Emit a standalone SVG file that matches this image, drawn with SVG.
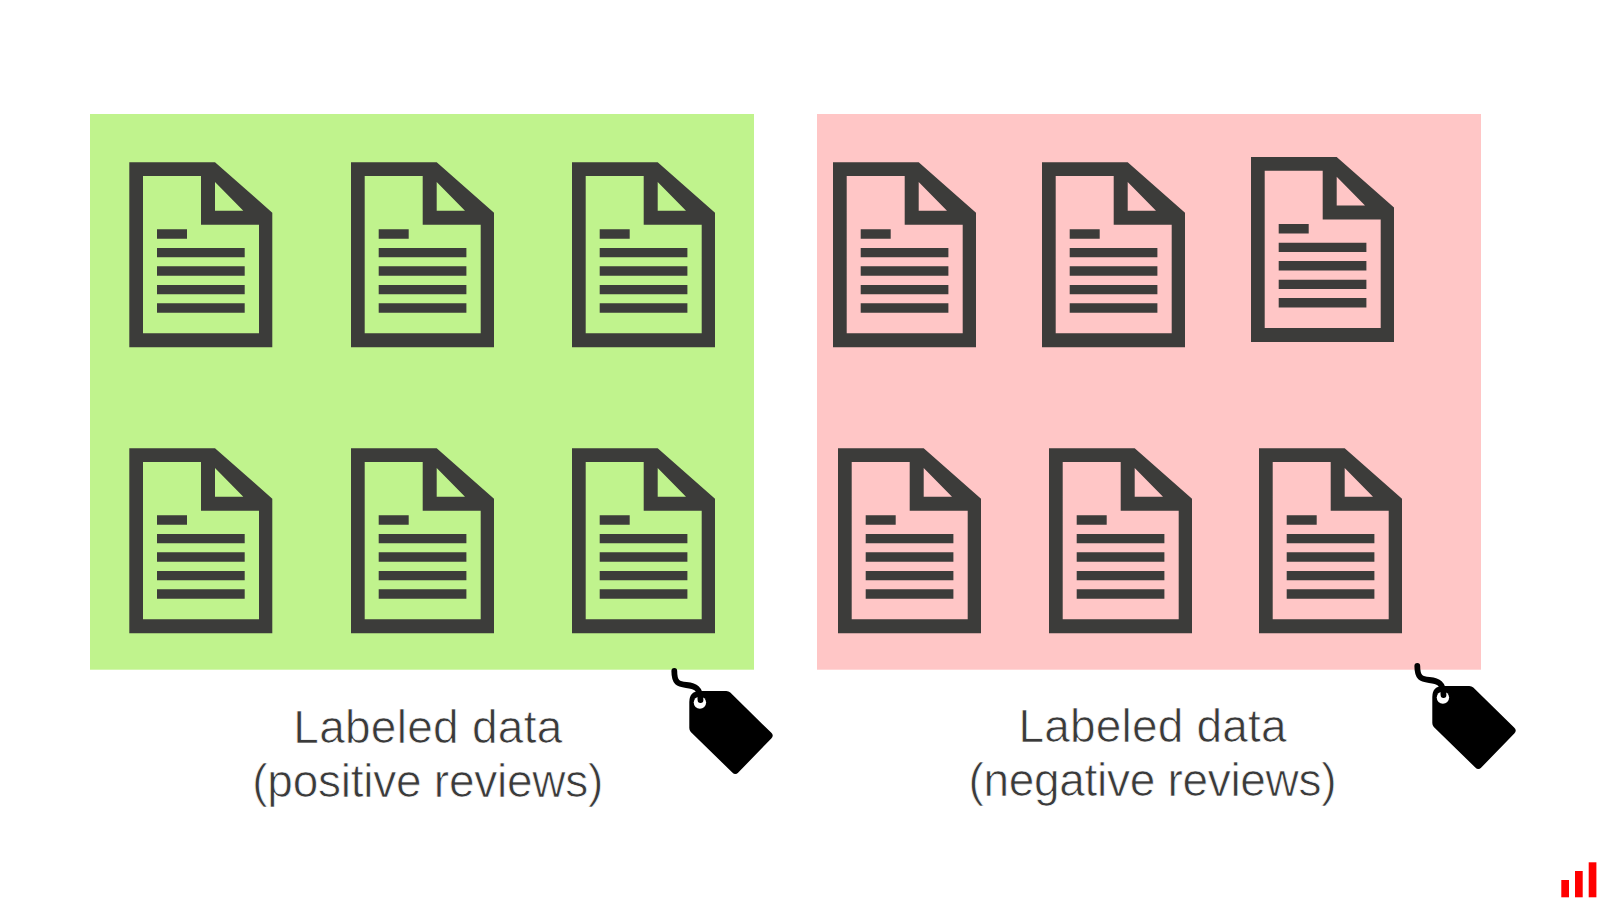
<svg xmlns="http://www.w3.org/2000/svg" width="1600" height="900" viewBox="0 0 1600 900">
<style>
.doc{fill:#3c3c3a;fill-rule:evenodd}
.lbl{font-family:"Liberation Sans",Arial,sans-serif;font-size:46px;fill:#3a3a3a;text-anchor:middle;stroke:#fff;stroke-width:.7px}
.bar{fill:#f00}
</style>
<defs>
<path id="d" class="doc" d="M0 0H85.7L143 50.4V185H0ZM13.7 13.7V171H129.7V62.4H71.7V13.7ZM85.7 19.7L114 48.4H85.7ZM27.7 67H57.7V76.4H27.7ZM27.7 85.7H115.4V95H27.7ZM27.7 104H115.4V113.4H27.7ZM27.7 122.7H115.4V132H27.7ZM27.7 141H115.4V150.4H27.7Z"/>
<g id="t">
<path d="M11 0H37Q39.4 0 41 1.6L81.8 41.6Q85 44.5 82 47.5L49 81.5Q46 84.5 43 81.5L1.5 41Q0 39.5 0 37V11Q0 0 11 0Z" fill="#000"/>
<circle cx="10.6" cy="11.6" r="6.2" fill="#fff"/>
<path d="M-15 -20C-15 -8 -11 -7 -3 -6C6 -5 11 -3 11.2 9" fill="none" stroke="#000" stroke-width="5.8" stroke-linecap="round"/>
</g>
</defs>
<rect id="panel-positive" x="90" y="114" width="664" height="555.7" fill="#c0f38d"/>
<rect id="panel-negative" x="817" y="114" width="664" height="555.7" fill="#ffc6c6"/>
<g id="doc-p1"><use href="#d" x="129.3" y="162.3"/></g>
<g id="doc-p2"><use href="#d" x="351" y="162.3"/></g>
<g id="doc-p3"><use href="#d" x="572" y="162.3"/></g>
<g id="doc-p4"><use href="#d" x="129.3" y="448.3"/></g>
<g id="doc-p5"><use href="#d" x="351" y="448.3"/></g>
<g id="doc-p6"><use href="#d" x="572" y="448.3"/></g>
<g id="doc-n1"><use href="#d" x="833" y="162.3"/></g>
<g id="doc-n2"><use href="#d" x="1042" y="162.3"/></g>
<g id="doc-n3"><use href="#d" x="1251" y="157"/></g>
<g id="doc-n4"><use href="#d" x="838" y="448.3"/></g>
<g id="doc-n5"><use href="#d" x="1049" y="448.3"/></g>
<g id="doc-n6"><use href="#d" x="1259" y="448.3"/></g>
<g id="tag-positive"><use href="#t" x="689.3" y="691"/></g>
<g id="tag-negative"><use href="#t" x="1432.3" y="686"/></g>
<g id="label-positive">
<text class="lbl" x="427.8" y="743" textLength="269">Labeled data</text>
<text class="lbl" x="427.8" y="797" textLength="351">(positive reviews)</text>
</g>
<g id="label-negative">
<text class="lbl" x="1152.5" y="742.3" textLength="268">Labeled data</text>
<text class="lbl" x="1152.5" y="795.5" textLength="368">(negative reviews)</text>
</g>
<g id="logo">
<rect class="bar" x="1561.3" y="880" width="7.7" height="17.3"/>
<rect class="bar" x="1575" y="871" width="7.7" height="26.3"/>
<rect class="bar" x="1588.7" y="862.3" width="7.7" height="35"/>
</g>
<g id="connectors"/>
</svg>
